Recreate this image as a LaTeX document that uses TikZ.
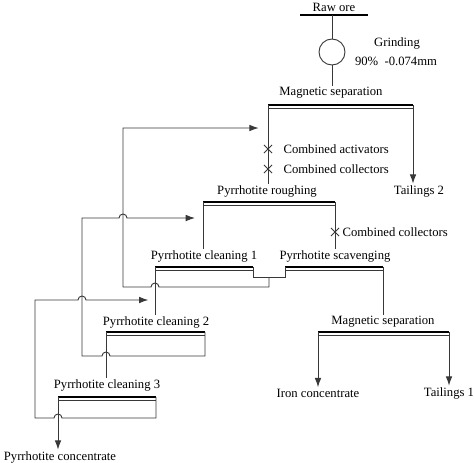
\documentclass[tikz,border=0pt]{standalone}
\usepackage{fontspec}
\setmainfont{Liberation Serif}
\usetikzlibrary{arrows.meta,shapes.misc}
\definecolor{flow}{HTML}{383838}

\begin{document}
\begin{tikzpicture}[x=0.75pt,y=-0.75pt,font=\fontsize{9.5}{11}\selectfont,
  lbl/.style={inner sep=1pt},
  bar/.style={line width=1.7pt,black},
  sub/.style={line width=0.55pt,flow},
  ln/.style={line width=0.7pt,flow},
  e/.style={ln,-{Latex[length=7pt,width=5pt]}},
  xm/.style={cross out,draw=flow,line width=0.6pt,minimum size=5.5pt,inner sep=0pt}]
  \useasboundingbox (0,0) rectangle (474,462);
  % labels
  \node[lbl] (ore) at (334,7) {Raw ore};
  \node[lbl] (grd) at (397,43) {Grinding};
  \node[lbl] (sz)  at (396,61) {90\%\ \ -0.074mm};
  \node[lbl] (ms1) at (331,93) {Magnetic separation};
  \node[lbl,anchor=west] (act)  at (282,149) {Combined activators};
  \node[lbl,anchor=west] (col1) at (282,169) {Combined collectors};
  \node[lbl] (t2)  at (419,191) {Tailings 2};
  \node[lbl] (rgh) at (267,191) {Pyrrhotite roughing};
  \node[lbl,anchor=west] (col2) at (341,232) {Combined collectors};
  \node[lbl] (cl1) at (204,256) {Pyrrhotite cleaning 1};
  \node[lbl] (scv) at (335,256) {Pyrrhotite scavenging};
  \node[lbl] (ms2) at (383,322) {Magnetic separation};
  \node[lbl] (fe)  at (318,393) {Iron concentrate};
  \node[lbl] (t1)  at (449,393) {Tailings 1};
  \node[lbl] (cl2) at (156,322) {Pyrrhotite cleaning 2};
  \node[lbl] (cl3) at (107,385) {Pyrrhotite cleaning 3};
  \node[lbl] (po)  at (60,457) {Pyrrhotite concentrate};
  % cells
  \coordinate (ore-l) at (300,15); \coordinate (ore-r) at (368,15);
  \coordinate (m1-l) at (268,105); \coordinate (m1-r) at (413,105);
  \coordinate (ro-l) at (203,202); \coordinate (ro-r) at (335,202);
  \coordinate (c1-l) at (155,267); \coordinate (c1-r) at (253,267);
  \coordinate (sc-l) at (285,267); \coordinate (sc-r) at (383,267);
  \coordinate (m2-l) at (318,332); \coordinate (m2-r) at (449,332);
  \coordinate (c2-l) at (106,332); \coordinate (c2-r) at (205,332);
  \coordinate (c3-l) at (58,397);  \coordinate (c3-r) at (156,397);
  \draw[bar] (ore-l) -- (ore-r);
  \foreach \n in {m1,ro,c1,sc,m2,c2,c3} {
    \draw[bar] (\n-l) -- (\n-r);
    \draw[sub] ([yshift=-2.6pt]\n-l) -- ([yshift=-2.6pt]\n-r);
  }
  % grinding
  \node[circle,draw=flow,line width=0.7pt,minimum size=19.5pt,inner sep=0pt] (mill) at (332,52) {};
  \draw[ln] (mill.north |- ore-l) -- (mill.north);
  \draw[ln] (mill.south) -- (mill.south |- ms1.north);
  % products
  \draw[ln] (m1-l) -- (m1-l |- rgh.north);
  \draw[e] (m1-r) -- (m1-r |- t2.north);
  \draw[ln] (ro-l) -- (ro-l |- cl1.north);
  \draw[ln] (ro-r) -- (ro-r |- scv.north);
  \draw[ln] (c1-l) -- (c1-l |- cl2.north);
  \draw[ln] (sc-r) -- (sc-r |- ms2.north);
  \draw[e] (m2-l) -- (m2-l |- fe.north);
  \draw[e] (m2-r) -- (m2-r |- t1.north);
  \draw[ln] (c2-l) -- (c2-l |- cl3.north);
  \draw[e] (c3-l) -- (c3-l |- po.north);
  % reagents
  \node[xm] (x1) at (m1-l |- act) {};
  \node[xm] (x2) at (m1-l |- col1) {};
  \node[xm] (x3) at (ro-r |- col2) {};
  % returns
  \draw[ln] (c1-r) -- (253,277) -- (285,277) -- (sc-l);
  \draw[e,shorten >=7pt] (269,277) -- (269,287) -- (159,287)
    arc[start angle=0,end angle=180,radius=3pt] -- (123,287) -- (123,128) -- (m1-l |- 0,128);
  \draw[e,shorten >=6pt] (c2-r) -- (205,356) -- (110,356)
    arc[start angle=0,end angle=180,radius=3pt] -- (82,356) -- (82,218) -- (119,218)
    arc[start angle=180,end angle=0,radius=3pt] -- (ro-l |- 0,218);
  \draw[e,shorten >=5pt] (c3-r) -- (156,418) -- (62,418)
    arc[start angle=0,end angle=180,radius=3pt] -- (35,418) -- (35,300) -- (78,300)
    arc[start angle=180,end angle=0,radius=3pt] -- (c1-l |- 0,300);
\end{tikzpicture}
\end{document}
